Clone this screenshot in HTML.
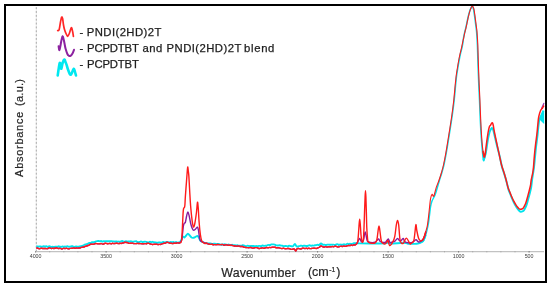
<!DOCTYPE html>
<html><head><meta charset="utf-8"><title>FTIR spectra</title>
<style>html,body{margin:0;padding:0;background:#fff;width:550px;height:287px;overflow:hidden}svg{display:block}</style>
</head><body>
<svg width="550" height="287" viewBox="0 0 550 287">
<rect x="0" y="0" width="550" height="287" fill="#fff"/>
<line x1="36.3" y1="7" x2="36.3" y2="251" stroke="#ececec" stroke-width="1"/>
<line x1="36.3" y1="7.2" x2="36.3" y2="251" stroke="#ababab" stroke-width="1" stroke-dasharray="1.9 1.95"/>
<line x1="36" y1="251.7" x2="544" y2="251.7" stroke="#c2c2c2" stroke-width="1.2"/>
<rect x="49.2" y="251.1" width="1" height="1.2" fill="#a8a8a8"/>
<rect x="63.3" y="251.1" width="1" height="1.2" fill="#a8a8a8"/>
<rect x="77.4" y="251.1" width="1" height="1.2" fill="#a8a8a8"/>
<rect x="91.5" y="251.1" width="1" height="1.2" fill="#a8a8a8"/>
<rect x="119.7" y="251.1" width="1" height="1.2" fill="#a8a8a8"/>
<rect x="133.8" y="251.1" width="1" height="1.2" fill="#a8a8a8"/>
<rect x="147.9" y="251.1" width="1" height="1.2" fill="#a8a8a8"/>
<rect x="162.0" y="251.1" width="1" height="1.2" fill="#a8a8a8"/>
<rect x="190.2" y="251.1" width="1" height="1.2" fill="#a8a8a8"/>
<rect x="204.3" y="251.1" width="1" height="1.2" fill="#a8a8a8"/>
<rect x="218.4" y="251.1" width="1" height="1.2" fill="#a8a8a8"/>
<rect x="232.5" y="251.1" width="1" height="1.2" fill="#a8a8a8"/>
<rect x="260.7" y="251.1" width="1" height="1.2" fill="#a8a8a8"/>
<rect x="274.8" y="251.1" width="1" height="1.2" fill="#a8a8a8"/>
<rect x="288.9" y="251.1" width="1" height="1.2" fill="#a8a8a8"/>
<rect x="303.0" y="251.1" width="1" height="1.2" fill="#a8a8a8"/>
<rect x="331.2" y="251.1" width="1" height="1.2" fill="#a8a8a8"/>
<rect x="345.3" y="251.1" width="1" height="1.2" fill="#a8a8a8"/>
<rect x="359.4" y="251.1" width="1" height="1.2" fill="#a8a8a8"/>
<rect x="373.5" y="251.1" width="1" height="1.2" fill="#a8a8a8"/>
<rect x="401.7" y="251.1" width="1" height="1.2" fill="#a8a8a8"/>
<rect x="415.8" y="251.1" width="1" height="1.2" fill="#a8a8a8"/>
<rect x="429.9" y="251.1" width="1" height="1.2" fill="#a8a8a8"/>
<rect x="444.0" y="251.1" width="1" height="1.2" fill="#a8a8a8"/>
<rect x="472.2" y="251.1" width="1" height="1.2" fill="#a8a8a8"/>
<rect x="486.3" y="251.1" width="1" height="1.2" fill="#a8a8a8"/>
<rect x="500.4" y="251.1" width="1" height="1.2" fill="#a8a8a8"/>
<rect x="514.5" y="251.1" width="1" height="1.2" fill="#a8a8a8"/>
<line x1="35.6" y1="251" x2="35.6" y2="252.6" stroke="#777" stroke-width="0.9"/>
<text x="35.6" y="257.8" font-size="5.3" fill="#3c3c3c" text-anchor="middle" font-family="Liberation Sans, sans-serif">4000</text>
<line x1="106.1" y1="251" x2="106.1" y2="252.6" stroke="#777" stroke-width="0.9"/>
<text x="106.1" y="257.8" font-size="5.3" fill="#3c3c3c" text-anchor="middle" font-family="Liberation Sans, sans-serif">3500</text>
<line x1="176.6" y1="251" x2="176.6" y2="252.6" stroke="#777" stroke-width="0.9"/>
<text x="176.6" y="257.8" font-size="5.3" fill="#3c3c3c" text-anchor="middle" font-family="Liberation Sans, sans-serif">3000</text>
<line x1="247.1" y1="251" x2="247.1" y2="252.6" stroke="#777" stroke-width="0.9"/>
<text x="247.1" y="257.8" font-size="5.3" fill="#3c3c3c" text-anchor="middle" font-family="Liberation Sans, sans-serif">2500</text>
<line x1="317.6" y1="251" x2="317.6" y2="252.6" stroke="#777" stroke-width="0.9"/>
<text x="317.6" y="257.8" font-size="5.3" fill="#3c3c3c" text-anchor="middle" font-family="Liberation Sans, sans-serif">2000</text>
<line x1="388.1" y1="251" x2="388.1" y2="252.6" stroke="#777" stroke-width="0.9"/>
<text x="388.1" y="257.8" font-size="5.3" fill="#3c3c3c" text-anchor="middle" font-family="Liberation Sans, sans-serif">1500</text>
<line x1="458.6" y1="251" x2="458.6" y2="252.6" stroke="#777" stroke-width="0.9"/>
<text x="458.6" y="257.8" font-size="5.3" fill="#3c3c3c" text-anchor="middle" font-family="Liberation Sans, sans-serif">1000</text>
<line x1="529.1" y1="251" x2="529.1" y2="252.6" stroke="#777" stroke-width="0.9"/>
<text x="529.1" y="257.8" font-size="5.3" fill="#3c3c3c" text-anchor="middle" font-family="Liberation Sans, sans-serif">500</text>
<path d="M36.30 246.60 C36.51 246.56 37.13 246.35 37.54 246.35 C37.96 246.35 38.37 246.60 38.79 246.61 C39.20 246.63 39.61 246.44 40.03 246.44 C40.44 246.44 40.86 246.60 41.27 246.64 C41.69 246.67 42.10 246.73 42.51 246.64 C42.93 246.56 43.34 246.15 43.76 246.12 C44.17 246.10 44.58 246.51 45.00 246.50 C45.42 246.49 45.83 246.03 46.25 246.09 C46.67 246.15 47.08 246.81 47.50 246.85 C47.92 246.90 48.33 246.44 48.75 246.36 C49.17 246.28 49.58 246.24 50.00 246.36 C50.42 246.48 50.83 247.03 51.25 247.07 C51.67 247.11 52.08 246.64 52.50 246.62 C52.92 246.61 53.33 246.97 53.75 246.98 C54.17 246.99 54.58 246.75 55.00 246.70 C55.42 246.65 55.83 246.64 56.25 246.65 C56.67 246.67 57.08 246.83 57.50 246.78 C57.92 246.72 58.33 246.32 58.75 246.31 C59.17 246.30 59.58 246.62 60.00 246.72 C60.42 246.82 60.83 246.93 61.25 246.91 C61.67 246.88 62.08 246.60 62.50 246.57 C62.92 246.54 63.33 246.75 63.75 246.74 C64.17 246.73 64.58 246.51 65.00 246.50 C65.42 246.49 65.83 246.73 66.25 246.67 C66.67 246.61 67.08 246.12 67.50 246.13 C67.92 246.15 68.33 246.69 68.75 246.77 C69.17 246.85 69.58 246.70 70.00 246.63 C70.42 246.57 70.83 246.46 71.25 246.38 C71.67 246.30 72.08 246.06 72.50 246.15 C72.92 246.24 73.33 246.84 73.75 246.92 C74.17 246.99 74.58 246.67 75.00 246.60 C75.42 246.53 75.83 246.49 76.25 246.50 C76.67 246.51 77.08 246.61 77.50 246.65 C77.92 246.68 78.33 246.77 78.75 246.72 C79.17 246.66 79.57 246.41 80.00 246.30 C80.43 246.19 80.89 246.14 81.33 246.06 C81.78 245.98 82.22 245.99 82.67 245.81 C83.11 245.64 83.56 245.23 84.00 245.00 C84.44 244.77 84.89 244.53 85.33 244.41 C85.78 244.28 86.22 244.42 86.67 244.27 C87.11 244.12 87.56 243.71 88.00 243.50 C88.44 243.29 88.89 243.10 89.33 243.02 C89.78 242.94 90.22 243.16 90.67 243.03 C91.11 242.89 91.49 242.33 92.00 242.20 C92.51 242.07 93.17 242.34 93.75 242.24 C94.33 242.14 94.96 241.79 95.50 241.60 C96.04 241.41 96.50 241.20 97.00 241.10 C97.50 241.01 98.00 240.99 98.50 241.01 C99.00 241.02 99.54 241.21 100.00 241.20 C100.46 241.19 100.83 240.88 101.25 240.96 C101.67 241.03 102.08 241.61 102.50 241.64 C102.92 241.68 103.33 241.23 103.75 241.18 C104.17 241.13 104.58 241.38 105.00 241.36 C105.42 241.35 105.83 241.10 106.25 241.08 C106.67 241.07 107.08 241.26 107.50 241.28 C107.92 241.30 108.33 241.18 108.75 241.18 C109.17 241.19 109.59 241.30 110.00 241.30 C110.41 241.30 110.82 241.15 111.23 241.16 C111.64 241.17 112.05 241.33 112.46 241.36 C112.87 241.39 113.28 241.31 113.69 241.35 C114.10 241.40 114.51 241.62 114.92 241.63 C115.33 241.65 115.74 241.42 116.15 241.43 C116.56 241.43 116.97 241.62 117.38 241.64 C117.79 241.66 118.21 241.56 118.62 241.57 C119.03 241.57 119.44 241.71 119.85 241.68 C120.26 241.65 120.67 241.51 121.08 241.38 C121.49 241.26 121.90 240.89 122.31 240.92 C122.72 240.95 123.13 241.42 123.54 241.54 C123.95 241.66 124.36 241.68 124.77 241.63 C125.18 241.57 125.58 241.20 126.00 241.20 C126.42 241.20 126.85 241.59 127.27 241.62 C127.70 241.65 128.12 241.38 128.55 241.37 C128.97 241.36 129.39 241.59 129.82 241.56 C130.24 241.52 130.67 241.12 131.09 241.16 C131.52 241.19 131.94 241.70 132.36 241.77 C132.79 241.84 133.21 241.66 133.64 241.59 C134.06 241.53 134.48 241.45 134.91 241.39 C135.33 241.33 135.76 241.14 136.18 241.24 C136.61 241.35 137.03 241.85 137.45 242.01 C137.88 242.17 138.30 242.22 138.73 242.19 C139.15 242.15 139.58 241.92 140.00 241.80 C140.42 241.68 140.83 241.41 141.25 241.47 C141.67 241.52 142.08 242.08 142.50 242.15 C142.92 242.21 143.33 241.92 143.75 241.83 C144.17 241.75 144.58 241.64 145.00 241.64 C145.42 241.63 145.83 241.70 146.25 241.80 C146.67 241.91 147.08 242.17 147.50 242.27 C147.92 242.37 148.33 242.49 148.75 242.40 C149.17 242.30 149.58 241.72 150.00 241.69 C150.42 241.66 150.83 242.23 151.25 242.24 C151.67 242.25 152.08 241.74 152.50 241.77 C152.92 241.79 153.33 242.35 153.75 242.41 C154.17 242.46 154.58 242.06 155.00 242.10 C155.42 242.13 155.83 242.52 156.25 242.63 C156.67 242.74 157.08 242.80 157.50 242.76 C157.92 242.71 158.33 242.43 158.75 242.37 C159.17 242.31 159.59 242.32 160.00 242.40 C160.41 242.48 160.80 242.87 161.20 242.84 C161.60 242.81 162.00 242.35 162.40 242.21 C162.80 242.07 163.20 241.95 163.60 241.99 C164.00 242.03 164.40 242.46 164.80 242.45 C165.20 242.44 165.60 241.99 166.00 241.93 C166.40 241.86 166.80 242.01 167.20 242.07 C167.60 242.12 168.00 242.19 168.40 242.25 C168.80 242.31 169.20 242.46 169.60 242.42 C170.00 242.38 170.40 242.02 170.80 242.00 C171.20 241.98 171.58 242.32 172.00 242.30 C172.42 242.28 172.89 241.81 173.33 241.85 C173.78 241.90 174.22 242.53 174.67 242.56 C175.11 242.59 175.56 242.03 176.00 242.03 C176.44 242.03 176.89 242.50 177.33 242.58 C177.78 242.66 178.22 242.57 178.67 242.49 C179.11 242.41 179.53 242.60 180.00 242.10 C180.47 241.60 181.03 240.43 181.50 239.50 C181.97 238.57 182.30 236.83 182.80 236.50 C183.30 236.17 183.93 237.67 184.50 237.50 C185.07 237.33 185.63 236.15 186.20 235.50 C186.77 234.85 187.30 233.60 187.90 233.60 C188.50 233.60 189.20 234.85 189.80 235.50 C190.40 236.15 190.93 237.12 191.50 237.50 C192.07 237.88 192.57 237.88 193.20 237.80 C193.83 237.72 194.58 237.30 195.30 237.00 C196.02 236.70 196.88 235.83 197.50 236.00 C198.12 236.17 198.50 237.17 199.00 238.00 C199.50 238.83 200.00 240.41 200.50 241.00 C201.00 241.59 201.50 241.34 202.00 241.56 C202.50 241.77 203.00 242.06 203.50 242.30 C204.00 242.54 204.54 242.86 205.00 243.00 C205.46 243.14 205.83 243.07 206.25 243.13 C206.67 243.18 207.08 243.30 207.50 243.35 C207.92 243.39 208.33 243.39 208.75 243.41 C209.17 243.43 209.58 243.45 210.00 243.49 C210.42 243.53 210.83 243.56 211.25 243.65 C211.67 243.74 212.08 244.03 212.50 244.05 C212.92 244.07 213.33 243.80 213.75 243.76 C214.17 243.72 214.58 243.74 215.00 243.80 C215.42 243.87 215.83 244.17 216.25 244.17 C216.67 244.18 217.08 243.87 217.50 243.85 C217.92 243.82 218.33 243.94 218.75 244.01 C219.17 244.09 219.58 244.17 220.00 244.30 C220.42 244.43 220.83 244.78 221.25 244.81 C221.67 244.84 222.08 244.52 222.50 244.48 C222.92 244.44 223.33 244.64 223.75 244.59 C224.17 244.54 224.58 244.18 225.00 244.19 C225.42 244.19 225.83 244.52 226.25 244.63 C226.67 244.74 227.08 244.89 227.50 244.86 C227.92 244.83 228.33 244.40 228.75 244.44 C229.17 244.47 229.58 244.94 230.00 245.05 C230.42 245.17 230.83 245.21 231.25 245.15 C231.67 245.09 232.08 244.69 232.50 244.72 C232.92 244.74 233.33 245.22 233.75 245.31 C234.17 245.40 234.58 245.21 235.00 245.24 C235.42 245.28 235.83 245.51 236.25 245.52 C236.67 245.53 237.08 245.27 237.50 245.30 C237.92 245.34 238.33 245.66 238.75 245.71 C239.17 245.75 239.58 245.57 240.00 245.60 C240.42 245.63 240.83 245.92 241.25 245.86 C241.67 245.81 242.08 245.35 242.50 245.27 C242.92 245.19 243.33 245.24 243.75 245.35 C244.17 245.47 244.58 245.81 245.00 245.96 C245.42 246.11 245.83 246.31 246.25 246.27 C246.67 246.22 247.08 245.74 247.50 245.68 C247.92 245.62 248.33 245.84 248.75 245.91 C249.17 245.98 249.58 246.09 250.00 246.08 C250.42 246.08 250.83 245.91 251.25 245.89 C251.67 245.87 252.08 245.96 252.50 245.98 C252.92 245.99 253.33 245.94 253.75 245.98 C254.17 246.02 254.58 246.19 255.00 246.20 C255.42 246.21 255.83 246.03 256.25 246.03 C256.67 246.03 257.08 246.21 257.50 246.19 C257.92 246.16 258.33 245.92 258.75 245.87 C259.17 245.82 259.58 245.84 260.00 245.89 C260.42 245.94 260.83 246.26 261.25 246.20 C261.67 246.13 262.08 245.52 262.50 245.47 C262.92 245.43 263.33 245.86 263.75 245.91 C264.17 245.97 264.58 245.82 265.00 245.80 C265.42 245.78 265.83 245.88 266.25 245.78 C266.67 245.67 267.08 245.32 267.50 245.16 C267.92 245.01 268.33 244.85 268.75 244.85 C269.17 244.85 269.58 245.22 270.00 245.14 C270.42 245.06 270.83 244.52 271.25 244.40 C271.67 244.27 272.06 244.40 272.50 244.40 C272.94 244.40 273.42 244.31 273.88 244.39 C274.33 244.48 274.79 244.72 275.25 244.89 C275.71 245.06 276.17 245.30 276.62 245.40 C277.08 245.50 277.54 245.53 278.00 245.50 C278.46 245.47 278.93 245.24 279.40 245.24 C279.87 245.25 280.33 245.47 280.80 245.54 C281.27 245.61 281.73 245.54 282.20 245.65 C282.67 245.76 283.13 246.14 283.60 246.20 C284.07 246.26 284.54 246.04 285.00 246.00 C285.46 245.96 285.89 245.91 286.33 245.98 C286.78 246.04 287.22 246.42 287.67 246.39 C288.11 246.36 288.56 245.87 289.00 245.80 C289.44 245.74 289.89 245.90 290.33 245.99 C290.78 246.07 291.22 246.27 291.67 246.30 C292.11 246.34 292.46 246.58 293.00 246.20 C293.54 245.82 294.32 243.98 294.90 244.00 C295.48 244.02 296.03 245.87 296.50 246.30 C296.97 246.73 297.31 246.61 297.71 246.57 C298.12 246.54 298.52 246.24 298.93 246.11 C299.33 245.99 299.74 245.91 300.14 245.84 C300.55 245.76 300.95 245.65 301.36 245.67 C301.76 245.69 302.17 245.98 302.57 245.97 C302.98 245.96 303.38 245.62 303.79 245.59 C304.19 245.56 304.59 245.73 305.00 245.80 C305.41 245.87 305.83 245.98 306.25 246.01 C306.67 246.04 307.08 246.09 307.50 245.98 C307.92 245.87 308.33 245.43 308.75 245.33 C309.17 245.22 309.58 245.28 310.00 245.35 C310.42 245.42 310.83 245.73 311.25 245.76 C311.67 245.80 312.08 245.57 312.50 245.55 C312.92 245.53 313.33 245.68 313.75 245.64 C314.17 245.60 314.57 245.40 315.00 245.30 C315.43 245.20 315.89 245.15 316.33 245.06 C316.78 244.97 317.22 244.78 317.67 244.77 C318.11 244.76 318.44 245.21 319.00 245.00 C319.56 244.79 320.33 243.53 321.00 243.50 C321.67 243.47 322.43 244.61 323.00 244.80 C323.57 244.99 323.93 244.57 324.40 244.61 C324.87 244.66 325.33 245.07 325.80 245.06 C326.27 245.06 326.73 244.66 327.20 244.59 C327.67 244.53 328.13 244.63 328.60 244.66 C329.07 244.70 329.56 244.80 330.00 244.80 C330.44 244.80 330.83 244.71 331.25 244.69 C331.67 244.66 332.08 244.67 332.50 244.65 C332.92 244.64 333.33 244.54 333.75 244.61 C334.17 244.67 334.58 245.08 335.00 245.03 C335.42 244.98 335.83 244.45 336.25 244.30 C336.67 244.15 337.08 244.02 337.50 244.13 C337.92 244.23 338.33 244.87 338.75 244.94 C339.17 245.00 339.58 244.53 340.00 244.50 C340.42 244.47 340.83 244.71 341.25 244.75 C341.67 244.80 342.08 244.86 342.50 244.76 C342.92 244.67 343.33 244.21 343.75 244.18 C344.17 244.14 344.58 244.51 345.00 244.56 C345.42 244.60 345.83 244.59 346.25 244.45 C346.67 244.31 347.08 243.78 347.50 243.72 C347.92 243.67 348.33 244.10 348.75 244.11 C349.17 244.12 349.58 243.82 350.00 243.80 C350.42 243.78 350.83 244.00 351.25 243.98 C351.67 243.96 352.08 243.79 352.50 243.70 C352.92 243.61 353.33 243.51 353.75 243.44 C354.17 243.38 352.29 243.29 355.00 243.30 C357.71 243.31 365.00 243.50 370.00 243.50 C375.00 243.50 382.00 243.47 385.00 243.30 C388.00 243.13 387.00 242.45 388.00 242.50 C389.00 242.55 388.38 243.55 391.00 243.60 C393.62 243.65 400.87 242.78 403.70 242.80 C406.53 242.82 405.82 243.55 408.00 243.70 C410.18 243.85 414.62 243.92 416.80 243.70 C418.98 243.48 419.98 242.93 421.10 242.40 C422.22 241.87 422.73 241.73 423.50 240.50 C424.27 239.27 425.33 235.92 425.70 235.00" fill="none" stroke="#00e3ec" stroke-width="1.90" stroke-linejoin="round"/><path d="M421.10 242.40 C421.50 242.08 422.73 241.73 423.50 240.50 C424.27 239.27 425.12 236.75 425.70 235.00 C426.28 233.25 426.57 231.83 427.00 230.00 C427.43 228.17 427.88 226.50 428.30 224.00 C428.72 221.50 429.13 217.87 429.50 215.00 C429.87 212.13 430.08 209.13 430.50 206.80 C430.92 204.47 431.27 202.92 432.00 201.00 C432.73 199.08 434.03 197.47 434.90 195.30 C435.77 193.13 436.43 190.55 437.20 188.00 C437.97 185.45 438.72 182.58 439.50 180.00 C440.28 177.42 441.17 175.00 441.90 172.50 C442.63 170.00 443.22 168.02 443.90 165.00 C444.58 161.98 445.25 158.57 446.00 154.40 C446.75 150.23 447.73 144.07 448.40 140.00 C449.07 135.93 449.35 134.17 450.00 130.00 C450.65 125.83 451.60 120.00 452.30 115.00 C453.00 110.00 453.65 105.00 454.20 100.00 C454.75 95.00 455.18 89.17 455.60 85.00 C456.02 80.83 456.33 77.83 456.70 75.00 C457.07 72.17 457.42 70.33 457.80 68.00 C458.18 65.67 458.57 63.33 459.00 61.00 C459.43 58.67 459.92 56.17 460.40 54.00 C460.88 51.83 461.48 49.83 461.90 48.00 C462.32 46.17 462.66 44.53 462.90 43.00 C463.14 41.47 463.09 40.42 463.35 38.80 C463.61 37.18 464.03 35.15 464.45 33.30 C464.87 31.45 465.42 29.57 465.85 27.70 C466.28 25.83 466.65 23.97 467.05 22.10 C467.45 20.23 467.80 18.35 468.25 16.50 C468.70 14.65 469.28 12.43 469.75 11.00 C470.22 9.57 470.67 8.65 471.05 7.90 C471.43 7.15 471.74 6.60 472.05 6.50 C472.36 6.40 472.62 6.72 472.90 7.30 C473.18 7.88 473.40 8.40 473.70 10.00 C474.00 11.60 474.38 14.58 474.70 16.90 C475.02 19.22 475.30 21.57 475.60 23.90 C475.90 26.23 476.27 28.58 476.50 30.90 C476.73 33.22 476.85 35.45 477.00 37.80 C477.15 40.15 477.27 41.63 477.40 45.00 C477.53 48.37 477.67 53.83 477.80 58.00 C477.93 62.17 478.03 65.50 478.20 70.00 C478.37 74.50 478.58 80.00 478.80 85.00 C479.02 90.00 479.28 95.00 479.50 100.00 C479.72 105.00 479.88 110.00 480.10 115.00 C480.32 120.00 480.53 125.33 480.80 130.00 C481.07 134.67 481.27 138.00 481.70 143.00 C482.13 148.00 482.88 157.67 483.40 160.00 C483.92 162.33 484.32 158.67 484.80 157.00 C485.28 155.33 486.05 151.17 486.30 150.00" fill="none" stroke="#00e3ec" stroke-width="1.50" stroke-linejoin="round"/><path d="M483.40 160.00 C483.63 159.50 484.32 158.67 484.80 157.00 C485.28 155.33 485.77 153.00 486.30 150.00 C486.83 147.00 487.45 142.00 488.00 139.00 C488.55 136.00 489.10 133.67 489.60 132.00 C490.10 130.33 490.58 129.65 491.00 129.00 C491.42 128.35 491.73 127.93 492.10 128.10 C492.47 128.27 492.85 129.02 493.20 130.00 C493.55 130.98 493.60 131.50 494.20 134.00 C494.80 136.50 495.87 141.20 496.80 145.00 C497.73 148.80 498.93 153.15 499.80 156.80 C500.67 160.45 501.23 163.97 502.00 166.90 C502.77 169.83 503.63 171.90 504.40 174.40 C505.17 176.90 505.90 179.32 506.60 181.90 C507.30 184.48 507.95 187.78 508.60 189.90 C509.25 192.02 509.88 193.05 510.50 194.60 C511.12 196.15 511.70 197.78 512.30 199.20 C512.90 200.62 513.48 201.90 514.10 203.10 C514.72 204.30 515.38 205.38 516.00 206.40 C516.62 207.42 517.23 208.45 517.80 209.20 C518.37 209.95 518.90 210.48 519.40 210.90 C519.90 211.32 520.30 211.62 520.80 211.70 C521.30 211.78 521.88 211.62 522.40 211.40 C522.92 211.18 523.45 210.93 523.90 210.40 C524.35 209.87 524.70 209.00 525.10 208.20 C525.50 207.40 525.88 206.73 526.30 205.60 C526.72 204.47 527.18 202.83 527.60 201.40 C528.02 199.97 528.40 198.50 528.80 197.00 C529.20 195.50 529.60 194.02 530.00 192.40 C530.40 190.78 530.90 188.97 531.20 187.30 C531.50 185.63 531.58 184.08 531.80 182.40 C532.02 180.72 532.13 179.68 532.50 177.20 C532.87 174.72 533.58 170.78 534.00 167.50 C534.42 164.22 534.67 160.83 535.00 157.50 C535.33 154.17 535.60 151.00 536.00 147.50 C536.40 144.00 537.02 139.83 537.40 136.50 C537.78 133.17 537.98 130.25 538.30 127.50 C538.62 124.75 538.81 122.00 539.30 120.00 C539.79 118.00 540.55 117.08 541.25 115.50 C541.95 113.92 543.12 111.33 543.50 110.50" fill="none" stroke="#00e3ec" stroke-width="1.90" stroke-linejoin="round"/>
<path d="M539.6 119.5 L541.5 114.8 L544.2 110.5 L544.2 124 L542.8 122.8 L541 121 Z" fill="#00e3ec"/>
<path d="M36.30 248.30 C36.51 248.25 37.13 247.94 37.54 248.00 C37.96 248.06 38.37 248.57 38.79 248.67 C39.20 248.77 39.61 248.70 40.03 248.62 C40.44 248.54 40.86 248.22 41.27 248.19 C41.69 248.16 42.10 248.40 42.51 248.44 C42.93 248.48 43.34 248.42 43.76 248.43 C44.17 248.44 44.58 248.47 45.00 248.50 C45.42 248.53 45.83 248.57 46.25 248.60 C46.67 248.63 47.08 248.78 47.50 248.68 C47.92 248.59 48.33 248.15 48.75 248.02 C49.17 247.90 49.58 247.83 50.00 247.93 C50.42 248.02 50.83 248.57 51.25 248.61 C51.67 248.66 52.08 248.24 52.50 248.21 C52.92 248.19 53.33 248.48 53.75 248.47 C54.17 248.47 54.58 248.31 55.00 248.20 C55.42 248.09 55.83 247.79 56.25 247.80 C56.67 247.81 57.08 248.13 57.50 248.25 C57.92 248.38 58.33 248.57 58.75 248.55 C59.17 248.53 59.58 248.11 60.00 248.16 C60.42 248.21 60.83 248.73 61.25 248.85 C61.67 248.97 62.08 248.98 62.50 248.86 C62.92 248.74 63.33 248.17 63.75 248.13 C64.17 248.08 64.58 248.60 65.00 248.60 C65.42 248.60 65.83 248.14 66.25 248.14 C66.67 248.13 67.08 248.44 67.50 248.56 C67.92 248.69 68.33 248.92 68.75 248.88 C69.17 248.85 69.58 248.46 70.00 248.34 C70.42 248.22 70.83 248.16 71.25 248.16 C71.67 248.15 72.08 248.35 72.50 248.30 C72.92 248.26 73.33 247.91 73.75 247.91 C74.17 247.91 74.58 248.29 75.00 248.30 C75.42 248.31 75.83 248.01 76.25 247.97 C76.67 247.94 77.08 248.08 77.50 248.09 C77.92 248.11 78.33 248.09 78.75 248.07 C79.17 248.06 79.57 248.11 80.00 248.00 C80.43 247.89 80.89 247.58 81.33 247.43 C81.78 247.27 82.22 247.16 82.67 247.09 C83.11 247.02 83.56 247.14 84.00 247.00 C84.44 246.86 84.89 246.42 85.33 246.25 C85.78 246.07 86.22 246.09 86.67 245.96 C87.11 245.84 87.56 245.68 88.00 245.50 C88.44 245.32 88.89 245.09 89.33 244.88 C89.78 244.66 90.22 244.32 90.67 244.20 C91.11 244.09 91.49 244.21 92.00 244.20 C92.51 244.19 93.17 244.27 93.75 244.15 C94.33 244.04 94.96 243.58 95.50 243.50 C96.04 243.42 96.50 243.60 97.00 243.65 C97.50 243.71 98.00 243.80 98.50 243.83 C99.00 243.85 99.54 243.86 100.00 243.80 C100.46 243.74 100.83 243.41 101.25 243.47 C101.67 243.52 102.08 244.06 102.50 244.14 C102.92 244.23 103.33 244.12 103.75 243.97 C104.17 243.83 104.58 243.35 105.00 243.26 C105.42 243.16 105.83 243.33 106.25 243.40 C106.67 243.47 107.08 243.66 107.50 243.70 C107.92 243.74 108.33 243.69 108.75 243.64 C109.17 243.59 109.58 243.38 110.00 243.40 C110.42 243.42 110.83 243.80 111.25 243.78 C111.67 243.76 112.08 243.33 112.50 243.30 C112.92 243.28 113.33 243.63 113.75 243.66 C114.17 243.69 114.58 243.59 115.00 243.50 C115.42 243.42 115.83 243.18 116.25 243.16 C116.67 243.14 117.08 243.32 117.50 243.40 C117.92 243.49 118.33 243.67 118.75 243.66 C119.17 243.64 119.59 243.33 120.00 243.30 C120.41 243.27 120.80 243.50 121.20 243.45 C121.60 243.40 122.00 243.08 122.40 242.98 C122.80 242.89 123.20 243.02 123.60 242.90 C124.00 242.78 124.40 242.31 124.80 242.24 C125.20 242.17 125.58 242.45 126.00 242.50 C126.42 242.55 126.89 242.40 127.33 242.54 C127.78 242.67 128.22 243.17 128.67 243.30 C129.11 243.43 129.57 243.31 130.00 243.30 C130.43 243.29 130.83 243.30 131.25 243.26 C131.67 243.22 132.08 243.05 132.50 243.08 C132.92 243.11 133.33 243.36 133.75 243.46 C134.17 243.55 134.58 243.60 135.00 243.63 C135.42 243.66 135.83 243.68 136.25 243.64 C136.67 243.61 137.08 243.44 137.50 243.41 C137.92 243.39 138.33 243.48 138.75 243.51 C139.17 243.54 139.58 243.58 140.00 243.60 C140.42 243.62 140.83 243.58 141.25 243.63 C141.67 243.68 142.08 243.89 142.50 243.90 C142.92 243.91 143.33 243.74 143.75 243.69 C144.17 243.64 144.58 243.60 145.00 243.60 C145.42 243.61 145.83 243.76 146.25 243.72 C146.67 243.67 147.08 243.39 147.50 243.33 C147.92 243.27 148.33 243.29 148.75 243.36 C149.17 243.44 149.57 243.67 150.00 243.80 C150.43 243.93 150.89 244.00 151.33 244.12 C151.78 244.23 152.22 244.47 152.67 244.50 C153.11 244.53 153.56 244.33 154.00 244.28 C154.44 244.24 154.89 244.26 155.33 244.24 C155.78 244.22 156.22 244.11 156.67 244.17 C157.11 244.23 157.58 244.57 158.00 244.60 C158.42 244.63 158.80 244.36 159.20 244.34 C159.60 244.33 160.00 244.56 160.40 244.51 C160.80 244.47 161.20 244.22 161.60 244.06 C162.00 243.91 162.40 243.72 162.80 243.60 C163.20 243.47 163.55 243.38 164.00 243.30 C164.45 243.22 165.00 243.29 165.50 243.12 C166.00 242.96 166.50 242.39 167.00 242.30 C167.50 242.21 168.00 242.39 168.50 242.56 C169.00 242.73 169.55 243.18 170.00 243.30 C170.45 243.42 170.80 243.23 171.20 243.29 C171.60 243.35 172.00 243.66 172.40 243.67 C172.80 243.67 173.20 243.39 173.60 243.31 C174.00 243.23 174.40 243.20 174.80 243.18 C175.20 243.16 175.58 243.25 176.00 243.20 C176.42 243.15 176.89 242.90 177.33 242.86 C177.78 242.82 178.22 243.02 178.67 242.98 C179.11 242.93 179.53 243.01 180.00 242.60 C180.47 242.19 181.08 241.93 181.50 240.50 C181.92 239.07 182.18 236.42 182.50 234.00 C182.82 231.58 183.10 227.80 183.40 226.00 C183.70 224.20 183.97 223.83 184.30 223.20 C184.63 222.57 185.02 223.40 185.40 222.20 C185.78 221.00 186.18 217.70 186.60 216.00 C187.02 214.30 187.45 211.92 187.90 212.00 C188.35 212.08 188.82 214.50 189.30 216.50 C189.78 218.50 190.30 222.00 190.80 224.00 C191.30 226.00 191.82 227.43 192.30 228.50 C192.78 229.57 193.15 230.32 193.70 230.40 C194.25 230.48 194.97 229.53 195.60 229.00 C196.23 228.47 197.00 226.87 197.50 227.20 C198.00 227.53 198.25 229.13 198.60 231.00 C198.95 232.87 199.27 236.73 199.60 238.40 C199.93 240.07 199.95 240.35 200.60 241.00 C201.25 241.65 202.27 241.83 203.50 242.30 C204.73 242.77 207.03 243.48 208.00 243.80 C208.97 244.12 208.89 244.12 209.33 244.22 C209.78 244.33 210.22 244.41 210.67 244.42 C211.11 244.43 211.56 244.25 212.00 244.30 C212.44 244.35 212.89 244.64 213.33 244.70 C213.78 244.75 214.22 244.61 214.67 244.62 C215.11 244.62 215.56 244.74 216.00 244.73 C216.44 244.71 216.89 244.54 217.33 244.52 C217.78 244.50 218.22 244.59 218.67 244.61 C219.11 244.62 219.57 244.60 220.00 244.60 C220.43 244.60 220.83 244.66 221.25 244.62 C221.67 244.58 222.08 244.28 222.50 244.38 C222.92 244.47 223.33 245.09 223.75 245.20 C224.17 245.30 224.58 245.08 225.00 245.01 C225.42 244.94 225.83 244.75 226.25 244.77 C226.67 244.79 227.08 245.06 227.50 245.13 C227.92 245.20 228.33 245.17 228.75 245.20 C229.17 245.23 229.58 245.28 230.00 245.30 C230.42 245.32 230.83 245.29 231.25 245.32 C231.67 245.35 232.08 245.38 232.50 245.46 C232.92 245.54 233.33 245.69 233.75 245.78 C234.17 245.88 234.58 245.95 235.00 246.01 C235.42 246.07 235.83 246.13 236.25 246.15 C236.67 246.18 237.08 246.20 237.50 246.16 C237.92 246.12 238.33 245.87 238.75 245.93 C239.17 245.98 239.58 246.42 240.00 246.50 C240.42 246.58 240.83 246.40 241.25 246.39 C241.67 246.39 242.08 246.39 242.50 246.48 C242.92 246.58 243.33 246.84 243.75 246.99 C244.17 247.14 244.58 247.30 245.00 247.37 C245.42 247.45 245.83 247.42 246.25 247.46 C246.67 247.49 247.08 247.54 247.50 247.59 C247.92 247.64 248.33 247.75 248.75 247.75 C249.17 247.75 249.58 247.64 250.00 247.60 C250.42 247.56 250.83 247.40 251.25 247.48 C251.67 247.56 252.08 248.01 252.50 248.11 C252.92 248.20 253.33 248.14 253.75 248.06 C254.17 247.98 254.58 247.69 255.00 247.62 C255.42 247.56 255.83 247.64 256.25 247.67 C256.67 247.69 257.08 247.62 257.50 247.76 C257.92 247.91 258.33 248.42 258.75 248.53 C259.17 248.64 259.57 248.48 260.00 248.40 C260.43 248.32 260.89 248.17 261.33 248.07 C261.78 247.98 262.22 247.83 262.67 247.85 C263.11 247.87 263.56 248.21 264.00 248.21 C264.44 248.21 264.89 247.98 265.33 247.86 C265.78 247.74 266.22 247.52 266.67 247.51 C267.11 247.50 267.54 247.82 268.00 247.80 C268.46 247.78 268.93 247.42 269.40 247.39 C269.87 247.36 270.33 247.66 270.80 247.62 C271.27 247.59 271.73 247.27 272.20 247.20 C272.67 247.13 273.13 247.18 273.60 247.20 C274.07 247.21 274.53 247.21 275.00 247.30 C275.47 247.39 275.93 247.67 276.40 247.75 C276.87 247.83 277.33 247.75 277.80 247.78 C278.27 247.81 278.73 247.83 279.20 247.92 C279.67 248.01 280.13 248.20 280.60 248.32 C281.07 248.43 281.54 248.62 282.00 248.60 C282.46 248.58 282.89 248.22 283.33 248.22 C283.78 248.22 284.22 248.52 284.67 248.60 C285.11 248.67 285.56 248.69 286.00 248.68 C286.44 248.67 286.89 248.55 287.33 248.52 C287.78 248.49 288.22 248.43 288.67 248.50 C289.11 248.56 289.53 248.76 290.00 248.90 C290.47 249.04 291.00 249.32 291.50 249.36 C292.00 249.39 292.50 249.14 293.00 249.11 C293.50 249.08 294.03 248.88 294.50 249.20 C294.97 249.52 295.38 251.07 295.80 251.00 C296.22 250.93 296.58 249.22 297.00 248.80 C297.42 248.38 297.89 248.50 298.33 248.50 C298.78 248.51 299.22 248.75 299.67 248.83 C300.11 248.91 300.56 249.08 301.00 248.99 C301.44 248.89 301.89 248.37 302.33 248.24 C302.78 248.10 303.22 248.14 303.67 248.20 C304.11 248.26 304.57 248.59 305.00 248.60 C305.43 248.61 305.83 248.22 306.25 248.24 C306.67 248.26 307.08 248.73 307.50 248.72 C307.92 248.71 308.33 248.20 308.75 248.18 C309.17 248.17 309.58 248.57 310.00 248.63 C310.42 248.70 310.83 248.61 311.25 248.57 C311.67 248.54 312.08 248.50 312.50 248.42 C312.92 248.33 313.33 248.11 313.75 248.09 C314.17 248.07 314.57 248.24 315.00 248.30 C315.43 248.36 315.89 248.51 316.33 248.46 C316.78 248.42 317.22 248.19 317.67 248.03 C318.11 247.87 318.44 247.84 319.00 247.50 C319.56 247.16 320.33 246.08 321.00 246.00 C321.67 245.92 322.43 246.84 323.00 247.00 C323.57 247.16 323.93 247.03 324.40 246.97 C324.87 246.92 325.33 246.66 325.80 246.67 C326.27 246.68 326.73 247.00 327.20 247.01 C327.67 247.03 328.13 246.78 328.60 246.75 C329.07 246.71 329.56 246.79 330.00 246.80 C330.44 246.81 330.83 246.86 331.25 246.82 C331.67 246.77 332.08 246.55 332.50 246.54 C332.92 246.53 333.33 246.82 333.75 246.77 C334.17 246.71 334.58 246.27 335.00 246.20 C335.42 246.14 335.83 246.25 336.25 246.37 C336.67 246.49 337.08 246.85 337.50 246.92 C337.92 246.99 338.33 246.87 338.75 246.79 C339.17 246.70 339.58 246.51 340.00 246.40 C340.42 246.29 340.83 246.11 341.25 246.13 C341.67 246.15 342.08 246.56 342.50 246.52 C342.92 246.49 343.33 245.95 343.75 245.93 C344.17 245.91 344.58 246.36 345.00 246.40 C345.42 246.43 345.83 246.23 346.25 246.12 C346.67 246.01 347.08 245.83 347.50 245.72 C347.92 245.62 348.33 245.50 348.75 245.48 C349.17 245.46 349.57 245.68 350.00 245.60 C350.43 245.52 350.87 244.98 351.30 244.98 C351.73 244.98 352.17 245.64 352.60 245.59 C353.03 245.54 353.47 244.77 353.90 244.66 C354.33 244.54 354.62 245.26 355.20 244.90 C355.78 244.54 356.67 243.57 357.40 242.50 C358.13 241.43 358.92 238.62 359.60 238.50 C360.28 238.38 360.85 241.55 361.50 241.80 C362.15 242.05 362.88 241.63 363.50 240.00 C364.12 238.37 364.62 232.00 365.20 232.00 C365.78 232.00 366.45 238.33 367.00 240.00 C367.55 241.67 367.17 241.62 368.50 242.00 C369.83 242.38 373.53 242.63 375.00 242.30 C376.47 241.97 376.68 240.57 377.30 240.00 C377.92 239.43 378.22 238.65 378.70 238.90 C379.18 239.15 379.18 240.90 380.20 241.50 C381.22 242.10 383.75 242.58 384.80 242.50 C385.85 242.42 385.92 241.60 386.50 241.00 C387.08 240.40 387.72 238.65 388.30 238.90 C388.88 239.15 389.28 242.02 390.00 242.50 C390.72 242.98 391.77 242.03 392.60 241.80 C393.43 241.57 394.17 241.65 395.00 241.10 C395.83 240.55 396.73 238.50 397.60 238.50 C398.47 238.50 399.25 241.10 400.20 241.10 C401.15 241.10 402.57 238.43 403.30 238.50 C404.03 238.57 403.82 240.78 404.60 241.50 C405.38 242.22 406.70 242.65 408.00 242.80 C409.30 242.95 411.08 242.90 412.40 242.40 C413.72 241.90 414.88 239.87 415.90 239.80 C416.92 239.73 417.65 241.77 418.50 242.00 C419.35 242.23 420.25 241.62 421.00 241.20 C421.75 240.78 422.35 240.45 423.00 239.50 C423.65 238.55 424.43 236.83 424.90 235.50 C425.37 234.17 425.65 232.17 425.80 231.50" fill="none" stroke="#8a1a9c" stroke-width="1.4" stroke-linejoin="round"/>
<path d="M541.6 108.6 L543.8 103.4" fill="none" stroke="#9a3ab0" stroke-width="1.3" stroke-linecap="round"/>
<path d="M36.30 248.30 C36.51 248.25 37.13 247.94 37.54 248.00 C37.96 248.06 38.37 248.57 38.79 248.67 C39.20 248.77 39.61 248.70 40.03 248.62 C40.44 248.54 40.86 248.22 41.27 248.19 C41.69 248.16 42.10 248.40 42.51 248.44 C42.93 248.48 43.34 248.42 43.76 248.43 C44.17 248.44 44.58 248.47 45.00 248.50 C45.42 248.53 45.83 248.57 46.25 248.60 C46.67 248.63 47.08 248.78 47.50 248.68 C47.92 248.59 48.33 248.15 48.75 248.02 C49.17 247.90 49.58 247.83 50.00 247.93 C50.42 248.02 50.83 248.57 51.25 248.61 C51.67 248.66 52.08 248.24 52.50 248.21 C52.92 248.19 53.33 248.48 53.75 248.47 C54.17 248.47 54.58 248.31 55.00 248.20 C55.42 248.09 55.83 247.79 56.25 247.80 C56.67 247.81 57.08 248.13 57.50 248.25 C57.92 248.38 58.33 248.57 58.75 248.55 C59.17 248.53 59.58 248.11 60.00 248.16 C60.42 248.21 60.83 248.73 61.25 248.85 C61.67 248.97 62.08 248.98 62.50 248.86 C62.92 248.74 63.33 248.17 63.75 248.13 C64.17 248.08 64.58 248.60 65.00 248.60 C65.42 248.60 65.83 248.14 66.25 248.14 C66.67 248.13 67.08 248.44 67.50 248.56 C67.92 248.69 68.33 248.92 68.75 248.88 C69.17 248.85 69.58 248.46 70.00 248.34 C70.42 248.22 70.83 248.16 71.25 248.16 C71.67 248.15 72.08 248.35 72.50 248.30 C72.92 248.26 73.33 247.91 73.75 247.91 C74.17 247.91 74.58 248.29 75.00 248.30 C75.42 248.31 75.83 248.01 76.25 247.97 C76.67 247.94 77.08 248.08 77.50 248.09 C77.92 248.11 78.33 248.09 78.75 248.07 C79.17 248.06 79.57 248.11 80.00 248.00 C80.43 247.89 80.89 247.58 81.33 247.43 C81.78 247.27 82.22 247.16 82.67 247.09 C83.11 247.02 83.56 247.14 84.00 247.00 C84.44 246.86 84.89 246.42 85.33 246.25 C85.78 246.07 86.22 246.09 86.67 245.96 C87.11 245.84 87.56 245.68 88.00 245.50 C88.44 245.32 88.89 245.09 89.33 244.88 C89.78 244.66 90.22 244.32 90.67 244.20 C91.11 244.09 91.49 244.21 92.00 244.20 C92.51 244.19 93.17 244.27 93.75 244.15 C94.33 244.04 94.96 243.58 95.50 243.50 C96.04 243.42 96.50 243.60 97.00 243.65 C97.50 243.71 98.00 243.80 98.50 243.83 C99.00 243.85 99.54 243.86 100.00 243.80 C100.46 243.74 100.83 243.41 101.25 243.47 C101.67 243.52 102.08 244.06 102.50 244.14 C102.92 244.23 103.33 244.12 103.75 243.97 C104.17 243.83 104.58 243.35 105.00 243.26 C105.42 243.16 105.83 243.33 106.25 243.40 C106.67 243.47 107.08 243.66 107.50 243.70 C107.92 243.74 108.33 243.69 108.75 243.64 C109.17 243.59 109.58 243.38 110.00 243.40 C110.42 243.42 110.83 243.80 111.25 243.78 C111.67 243.76 112.08 243.33 112.50 243.30 C112.92 243.28 113.33 243.63 113.75 243.66 C114.17 243.69 114.58 243.59 115.00 243.50 C115.42 243.42 115.83 243.18 116.25 243.16 C116.67 243.14 117.08 243.32 117.50 243.40 C117.92 243.49 118.33 243.67 118.75 243.66 C119.17 243.64 119.59 243.33 120.00 243.30 C120.41 243.27 120.80 243.50 121.20 243.45 C121.60 243.40 122.00 243.08 122.40 242.98 C122.80 242.89 123.20 243.02 123.60 242.90 C124.00 242.78 124.40 242.31 124.80 242.24 C125.20 242.17 125.58 242.45 126.00 242.50 C126.42 242.55 126.89 242.40 127.33 242.54 C127.78 242.67 128.22 243.17 128.67 243.30 C129.11 243.43 129.57 243.31 130.00 243.30 C130.43 243.29 130.83 243.30 131.25 243.26 C131.67 243.22 132.08 243.05 132.50 243.08 C132.92 243.11 133.33 243.36 133.75 243.46 C134.17 243.55 134.58 243.60 135.00 243.63 C135.42 243.66 135.83 243.68 136.25 243.64 C136.67 243.61 137.08 243.44 137.50 243.41 C137.92 243.39 138.33 243.48 138.75 243.51 C139.17 243.54 139.58 243.58 140.00 243.60 C140.42 243.62 140.83 243.58 141.25 243.63 C141.67 243.68 142.08 243.89 142.50 243.90 C142.92 243.91 143.33 243.74 143.75 243.69 C144.17 243.64 144.58 243.60 145.00 243.60 C145.42 243.61 145.83 243.76 146.25 243.72 C146.67 243.67 147.08 243.39 147.50 243.33 C147.92 243.27 148.33 243.29 148.75 243.36 C149.17 243.44 149.57 243.67 150.00 243.80 C150.43 243.93 150.89 244.00 151.33 244.12 C151.78 244.23 152.22 244.47 152.67 244.50 C153.11 244.53 153.56 244.33 154.00 244.28 C154.44 244.24 154.89 244.26 155.33 244.24 C155.78 244.22 156.22 244.11 156.67 244.17 C157.11 244.23 157.58 244.57 158.00 244.60 C158.42 244.63 158.80 244.36 159.20 244.34 C159.60 244.33 160.00 244.56 160.40 244.51 C160.80 244.47 161.20 244.22 161.60 244.06 C162.00 243.91 162.40 243.72 162.80 243.60 C163.20 243.47 163.55 243.38 164.00 243.30 C164.45 243.22 165.00 243.29 165.50 243.12 C166.00 242.96 166.50 242.39 167.00 242.30 C167.50 242.21 168.00 242.39 168.50 242.56 C169.00 242.73 169.55 243.18 170.00 243.30 C170.45 243.42 170.80 243.23 171.20 243.29 C171.60 243.35 172.00 243.66 172.40 243.67 C172.80 243.67 173.20 243.39 173.60 243.31 C174.00 243.23 174.40 243.20 174.80 243.18 C175.20 243.16 175.58 243.25 176.00 243.20 C176.42 243.15 176.89 242.90 177.33 242.86 C177.78 242.82 178.22 242.99 178.67 242.98 C179.11 242.97 179.51 243.21 180.00 242.80 C180.49 242.39 181.18 243.47 181.60 240.50 C182.02 237.53 182.25 229.58 182.50 225.00 C182.75 220.42 182.92 215.75 183.10 213.00 C183.28 210.25 183.38 209.40 183.60 208.50 C183.82 207.60 184.18 208.18 184.40 207.60 C184.62 207.02 184.73 206.93 184.90 205.00 C185.07 203.07 185.13 199.93 185.40 196.00 C185.67 192.07 186.20 185.40 186.50 181.40 C186.80 177.40 187.00 174.42 187.20 172.00 C187.40 169.58 187.52 167.07 187.70 166.90 C187.88 166.73 188.10 169.38 188.30 171.00 C188.50 172.62 188.67 173.23 188.90 176.60 C189.13 179.97 189.42 186.35 189.70 191.20 C189.98 196.05 190.20 200.85 190.60 205.70 C191.00 210.55 191.62 216.75 192.10 220.30 C192.58 223.85 193.03 226.55 193.50 227.00 C193.97 227.45 194.40 225.50 194.90 223.00 C195.40 220.50 196.07 215.47 196.50 212.00 C196.93 208.53 197.20 202.70 197.50 202.20 C197.80 201.70 198.03 205.70 198.30 209.00 C198.57 212.30 198.77 217.83 199.10 222.00 C199.43 226.17 199.88 230.92 200.30 234.00 C200.72 237.08 201.07 239.03 201.60 240.50 C202.13 241.97 202.93 242.29 203.50 242.80 C204.07 243.31 204.50 243.51 205.00 243.54 C205.50 243.58 206.00 242.98 206.50 243.02 C207.00 243.06 207.53 243.60 208.00 243.80 C208.47 244.00 208.89 244.12 209.33 244.22 C209.78 244.33 210.22 244.41 210.67 244.42 C211.11 244.43 211.56 244.25 212.00 244.30 C212.44 244.35 212.89 244.64 213.33 244.70 C213.78 244.75 214.22 244.61 214.67 244.62 C215.11 244.62 215.56 244.74 216.00 244.73 C216.44 244.71 216.89 244.54 217.33 244.52 C217.78 244.50 218.22 244.59 218.67 244.61 C219.11 244.62 219.57 244.60 220.00 244.60 C220.43 244.60 220.83 244.66 221.25 244.62 C221.67 244.58 222.08 244.28 222.50 244.38 C222.92 244.47 223.33 245.09 223.75 245.20 C224.17 245.30 224.58 245.08 225.00 245.01 C225.42 244.94 225.83 244.75 226.25 244.77 C226.67 244.79 227.08 245.06 227.50 245.13 C227.92 245.20 228.33 245.17 228.75 245.20 C229.17 245.23 229.58 245.28 230.00 245.30 C230.42 245.32 230.83 245.29 231.25 245.32 C231.67 245.35 232.08 245.38 232.50 245.46 C232.92 245.54 233.33 245.69 233.75 245.78 C234.17 245.88 234.58 245.95 235.00 246.01 C235.42 246.07 235.83 246.13 236.25 246.15 C236.67 246.18 237.08 246.20 237.50 246.16 C237.92 246.12 238.33 245.87 238.75 245.93 C239.17 245.98 239.58 246.42 240.00 246.50 C240.42 246.58 240.83 246.40 241.25 246.39 C241.67 246.39 242.08 246.39 242.50 246.48 C242.92 246.58 243.33 246.84 243.75 246.99 C244.17 247.14 244.58 247.30 245.00 247.37 C245.42 247.45 245.83 247.42 246.25 247.46 C246.67 247.49 247.08 247.54 247.50 247.59 C247.92 247.64 248.33 247.75 248.75 247.75 C249.17 247.75 249.58 247.64 250.00 247.60 C250.42 247.56 250.83 247.40 251.25 247.48 C251.67 247.56 252.08 248.01 252.50 248.11 C252.92 248.20 253.33 248.14 253.75 248.06 C254.17 247.98 254.58 247.69 255.00 247.62 C255.42 247.56 255.83 247.64 256.25 247.67 C256.67 247.69 257.08 247.62 257.50 247.76 C257.92 247.91 258.33 248.42 258.75 248.53 C259.17 248.64 259.57 248.48 260.00 248.40 C260.43 248.32 260.89 248.17 261.33 248.07 C261.78 247.98 262.22 247.83 262.67 247.85 C263.11 247.87 263.56 248.21 264.00 248.21 C264.44 248.21 264.89 247.98 265.33 247.86 C265.78 247.74 266.22 247.52 266.67 247.51 C267.11 247.50 267.54 247.82 268.00 247.80 C268.46 247.78 268.93 247.42 269.40 247.39 C269.87 247.36 270.33 247.66 270.80 247.62 C271.27 247.59 271.73 247.27 272.20 247.20 C272.67 247.13 273.13 247.18 273.60 247.20 C274.07 247.21 274.53 247.21 275.00 247.30 C275.47 247.39 275.93 247.67 276.40 247.75 C276.87 247.83 277.33 247.75 277.80 247.78 C278.27 247.81 278.73 247.83 279.20 247.92 C279.67 248.01 280.13 248.20 280.60 248.32 C281.07 248.43 281.54 248.62 282.00 248.60 C282.46 248.58 282.89 248.22 283.33 248.22 C283.78 248.22 284.22 248.52 284.67 248.60 C285.11 248.67 285.56 248.69 286.00 248.68 C286.44 248.67 286.89 248.55 287.33 248.52 C287.78 248.49 288.22 248.43 288.67 248.50 C289.11 248.56 289.53 248.76 290.00 248.90 C290.47 249.04 291.00 249.32 291.50 249.36 C292.00 249.39 292.50 249.14 293.00 249.11 C293.50 249.08 294.03 248.88 294.50 249.20 C294.97 249.52 295.38 251.07 295.80 251.00 C296.22 250.93 296.58 249.22 297.00 248.80 C297.42 248.38 297.89 248.50 298.33 248.50 C298.78 248.51 299.22 248.75 299.67 248.83 C300.11 248.91 300.56 249.08 301.00 248.99 C301.44 248.89 301.89 248.37 302.33 248.24 C302.78 248.10 303.22 248.14 303.67 248.20 C304.11 248.26 304.57 248.59 305.00 248.60 C305.43 248.61 305.83 248.22 306.25 248.24 C306.67 248.26 307.08 248.73 307.50 248.72 C307.92 248.71 308.33 248.20 308.75 248.18 C309.17 248.17 309.58 248.57 310.00 248.63 C310.42 248.70 310.83 248.61 311.25 248.57 C311.67 248.54 312.08 248.50 312.50 248.42 C312.92 248.33 313.33 248.11 313.75 248.09 C314.17 248.07 314.57 248.24 315.00 248.30 C315.43 248.36 315.89 248.51 316.33 248.46 C316.78 248.42 317.22 248.19 317.67 248.03 C318.11 247.87 318.44 247.84 319.00 247.50 C319.56 247.16 320.33 246.08 321.00 246.00 C321.67 245.92 322.43 246.84 323.00 247.00 C323.57 247.16 323.93 247.03 324.40 246.97 C324.87 246.92 325.33 246.66 325.80 246.67 C326.27 246.68 326.73 247.00 327.20 247.01 C327.67 247.03 328.13 246.78 328.60 246.75 C329.07 246.71 329.56 246.79 330.00 246.80 C330.44 246.81 330.83 246.86 331.25 246.82 C331.67 246.77 332.08 246.55 332.50 246.54 C332.92 246.53 333.33 246.82 333.75 246.77 C334.17 246.71 334.58 246.27 335.00 246.20 C335.42 246.14 335.83 246.25 336.25 246.37 C336.67 246.49 337.08 246.85 337.50 246.92 C337.92 246.99 338.33 246.87 338.75 246.79 C339.17 246.70 339.58 246.51 340.00 246.40 C340.42 246.29 340.83 246.11 341.25 246.13 C341.67 246.15 342.08 246.56 342.50 246.52 C342.92 246.49 343.33 245.95 343.75 245.93 C344.17 245.91 344.58 246.36 345.00 246.40 C345.42 246.43 345.83 246.23 346.25 246.12 C346.67 246.01 347.08 245.83 347.50 245.72 C347.92 245.62 348.33 245.50 348.75 245.48 C349.17 245.46 349.57 245.68 350.00 245.60 C350.43 245.52 350.87 244.98 351.30 244.98 C351.73 244.98 352.17 245.64 352.60 245.59 C353.03 245.54 353.47 244.77 353.90 244.66 C354.33 244.54 354.62 245.21 355.20 244.90 C355.78 244.59 356.88 244.28 357.40 242.80 C357.92 241.32 358.03 238.80 358.30 236.00 C358.57 233.20 358.77 228.78 359.00 226.00 C359.23 223.22 359.47 219.30 359.70 219.30 C359.93 219.30 360.17 223.22 360.40 226.00 C360.63 228.78 360.80 233.33 361.10 236.00 C361.40 238.67 361.83 241.33 362.20 242.00 C362.57 242.67 363.00 242.33 363.30 240.00 C363.60 237.67 363.78 233.00 364.00 228.00 C364.22 223.00 364.42 215.17 364.60 210.00 C364.78 204.83 364.95 200.23 365.10 197.00 C365.25 193.77 365.37 190.60 365.50 190.60 C365.63 190.60 365.77 193.77 365.90 197.00 C366.03 200.23 366.15 204.83 366.30 210.00 C366.45 215.17 366.60 223.33 366.80 228.00 C367.00 232.67 367.25 235.67 367.50 238.00 C367.75 240.33 367.58 241.12 368.30 242.00 C369.02 242.88 370.65 243.17 371.80 243.30 C372.95 243.43 374.37 243.35 375.20 242.80 C376.03 242.25 376.38 241.47 376.80 240.00 C377.22 238.53 377.43 235.92 377.70 234.00 C377.97 232.08 378.18 229.85 378.40 228.50 C378.62 227.15 378.80 225.90 379.00 225.90 C379.20 225.90 379.38 227.15 379.60 228.50 C379.82 229.85 380.05 232.08 380.30 234.00 C380.55 235.92 380.78 238.53 381.10 240.00 C381.42 241.47 381.58 242.13 382.20 242.80 C382.82 243.47 384.07 244.07 384.80 244.00 C385.53 243.93 386.07 242.98 386.60 242.40 C387.13 241.82 387.50 239.98 388.00 240.50 C388.50 241.02 388.83 245.18 389.60 245.50 C390.37 245.82 391.73 243.93 392.60 242.40 C393.47 240.87 394.18 239.20 394.80 236.30 C395.42 233.40 395.85 227.65 396.30 225.00 C396.75 222.35 397.10 220.40 397.50 220.40 C397.90 220.40 398.25 221.62 398.70 225.00 C399.15 228.38 399.43 237.65 400.20 240.70 C400.97 243.75 402.28 243.73 403.30 243.30 C404.32 242.87 405.22 238.07 406.30 238.10 C407.38 238.13 409.05 242.57 409.80 243.50 C410.55 244.43 410.15 244.10 410.80 243.70 C411.45 243.30 413.00 243.05 413.70 241.10 C414.40 239.15 414.63 234.77 415.00 232.00 C415.37 229.23 415.58 224.67 415.90 224.50 C416.22 224.33 416.47 228.75 416.90 231.00 C417.33 233.25 417.95 236.38 418.50 238.00 C419.05 239.62 419.47 240.40 420.20 240.70 C420.93 241.00 422.13 240.75 422.90 239.80 C423.67 238.85 424.32 236.38 424.80 235.00 C425.28 233.62 425.63 232.08 425.80 231.50" fill="none" stroke="#ff1a1a" stroke-width="1.40" stroke-linejoin="round"/><path d="M422.90 239.80 C423.22 239.00 424.32 236.38 424.80 235.00 C425.28 233.62 425.38 233.02 425.80 231.50 C426.22 229.98 426.85 228.32 427.30 225.90 C427.75 223.48 428.12 220.18 428.50 217.00 C428.88 213.82 429.27 209.80 429.60 206.80 C429.93 203.80 430.10 201.08 430.50 199.00 C430.90 196.92 431.45 194.77 432.00 194.30 C432.55 193.83 433.10 197.32 433.80 196.20 C434.50 195.08 435.32 190.30 436.20 187.60 C437.08 184.90 438.22 182.52 439.10 180.00 C439.98 177.48 440.77 175.00 441.50 172.50 C442.23 170.00 442.82 168.02 443.50 165.00 C444.18 161.98 444.85 158.57 445.60 154.40 C446.35 150.23 447.33 144.07 448.00 140.00 C448.67 135.93 448.95 134.17 449.60 130.00 C450.25 125.83 451.20 120.00 451.90 115.00 C452.60 110.00 453.25 105.00 453.80 100.00 C454.35 95.00 454.78 89.17 455.20 85.00 C455.62 80.83 455.93 77.83 456.30 75.00 C456.67 72.17 457.02 70.33 457.40 68.00 C457.78 65.67 458.17 63.33 458.60 61.00 C459.03 58.67 459.52 56.17 460.00 54.00 C460.48 51.83 461.08 49.83 461.50 48.00 C461.92 46.17 462.15 44.60 462.50 43.00 C462.85 41.40 463.23 40.08 463.60 38.40 C463.97 36.72 464.28 34.75 464.70 32.90 C465.12 31.05 465.67 29.17 466.10 27.30 C466.53 25.43 466.90 23.57 467.30 21.70 C467.70 19.83 468.05 17.95 468.50 16.10 C468.95 14.25 469.53 12.03 470.00 10.60 C470.47 9.17 470.92 8.25 471.30 7.50 C471.68 6.75 471.97 6.13 472.30 6.10 C472.63 6.07 473.00 6.65 473.30 7.30 C473.60 7.95 473.80 8.40 474.10 10.00 C474.40 11.60 474.78 14.58 475.10 16.90 C475.42 19.22 475.70 21.57 476.00 23.90 C476.30 26.23 476.67 28.58 476.90 30.90 C477.13 33.22 477.25 35.45 477.40 37.80 C477.55 40.15 477.67 41.63 477.80 45.00 C477.93 48.37 478.07 53.83 478.20 58.00 C478.33 62.17 478.43 65.50 478.60 70.00 C478.77 74.50 478.98 80.00 479.20 85.00 C479.42 90.00 479.68 95.00 479.90 100.00 C480.12 105.00 480.28 110.00 480.50 115.00 C480.72 120.00 480.93 125.33 481.20 130.00 C481.47 134.67 481.80 139.50 482.10 143.00 C482.40 146.50 482.67 148.67 483.00 151.00 C483.33 153.33 483.72 156.67 484.10 157.00 C484.48 157.33 485.10 153.67 485.30 153.00" fill="none" stroke="#ff1a1a" stroke-width="1.10" stroke-linejoin="round"/><path d="M483.00 151.00 C483.18 152.00 483.72 156.67 484.10 157.00 C484.48 157.33 484.93 155.00 485.30 153.00 C485.67 151.00 485.85 148.33 486.30 145.00 C486.75 141.67 487.50 136.02 488.00 133.00 C488.50 129.98 488.88 128.18 489.30 126.90 C489.72 125.62 490.13 125.88 490.50 125.30 C490.87 124.72 491.18 123.82 491.50 123.40 C491.82 122.98 492.10 122.45 492.40 122.80 C492.70 123.15 493.03 124.30 493.30 125.50 C493.57 126.70 493.47 127.25 494.00 130.00 C494.53 132.75 495.63 137.93 496.50 142.00 C497.37 146.07 498.38 150.65 499.20 154.40 C500.02 158.15 500.63 161.57 501.40 164.50 C502.17 167.43 503.03 169.50 503.80 172.00 C504.57 174.50 505.30 176.92 506.00 179.50 C506.70 182.08 507.35 185.38 508.00 187.50 C508.65 189.62 509.28 190.65 509.90 192.20 C510.52 193.75 511.10 195.38 511.70 196.80 C512.30 198.22 512.88 199.50 513.50 200.70 C514.12 201.90 514.78 202.98 515.40 204.00 C516.02 205.02 516.63 206.05 517.20 206.80 C517.77 207.55 518.30 208.08 518.80 208.50 C519.30 208.92 519.70 209.22 520.20 209.30 C520.70 209.38 521.28 209.22 521.80 209.00 C522.32 208.78 522.85 208.53 523.30 208.00 C523.75 207.47 524.10 206.60 524.50 205.80 C524.90 205.00 525.28 204.33 525.70 203.20 C526.12 202.07 526.58 200.43 527.00 199.00 C527.42 197.57 527.80 196.10 528.20 194.60 C528.60 193.10 529.00 191.62 529.40 190.00 C529.80 188.38 530.30 186.57 530.60 184.90 C530.90 183.23 530.77 182.48 531.20 180.00 C531.63 177.52 532.67 174.08 533.20 170.00 C533.73 165.92 534.02 159.67 534.40 155.50 C534.78 151.33 535.08 148.58 535.50 145.00 C535.92 141.42 536.52 137.33 536.90 134.00 C537.28 130.67 537.49 127.88 537.80 125.00 C538.11 122.12 538.28 119.17 538.75 116.75 C539.22 114.33 539.98 111.96 540.60 110.50 C541.23 109.04 541.93 108.83 542.50 108.00 C543.07 107.17 543.75 105.92 544.00 105.50" fill="none" stroke="#ff1a1a" stroke-width="1.50" stroke-linejoin="round"/>
<path d="M57.70 30.60 C57.93 30.47 58.63 31.23 59.10 29.80 C59.57 28.37 60.08 24.10 60.50 22.00 C60.92 19.90 61.25 17.78 61.60 17.20 C61.95 16.62 62.28 17.20 62.60 18.50 C62.92 19.80 63.18 23.17 63.50 25.00 C63.82 26.83 64.08 28.08 64.50 29.50 C64.92 30.92 65.47 32.37 66.00 33.50 C66.53 34.63 67.12 36.38 67.70 36.30 C68.28 36.22 68.90 34.43 69.50 33.00 C70.10 31.57 70.80 28.03 71.30 27.70 C71.80 27.37 72.15 29.57 72.50 31.00 C72.85 32.43 73.25 35.42 73.40 36.30" fill="none" stroke="#ff2626" stroke-width="1.7" stroke-linecap="round" stroke-linejoin="round"/>
<path d="M58.60 46.20 C58.70 46.87 58.93 50.07 59.20 50.20 C59.47 50.33 59.85 48.53 60.20 47.00 C60.55 45.47 60.92 42.78 61.30 41.00 C61.68 39.22 62.08 36.47 62.50 36.30 C62.92 36.13 63.42 38.55 63.80 40.00 C64.18 41.45 64.50 43.55 64.80 45.00 C65.10 46.45 65.17 47.20 65.60 48.70 C66.03 50.20 66.88 52.85 67.40 54.00 C67.92 55.15 68.22 55.27 68.70 55.60 C69.18 55.93 69.82 56.13 70.30 56.00 C70.78 55.87 71.15 55.38 71.60 54.80 C72.05 54.22 72.60 53.33 73.00 52.50 C73.40 51.67 73.83 50.25 74.00 49.80" fill="none" stroke="#8c22a0" stroke-width="2.0" stroke-linecap="round" stroke-linejoin="round"/>
<path d="M57.70 75.50 C57.88 74.25 58.45 70.12 58.80 68.00 C59.15 65.88 59.50 63.22 59.80 62.80 C60.10 62.38 60.33 64.52 60.60 65.50 C60.87 66.48 61.07 69.12 61.40 68.70 C61.73 68.28 62.12 64.53 62.60 63.00 C63.08 61.47 63.82 59.67 64.30 59.50 C64.78 59.33 65.12 61.12 65.50 62.00 C65.88 62.88 66.18 63.55 66.60 64.80 C67.02 66.05 67.47 67.97 68.00 69.50 C68.53 71.03 69.30 73.17 69.80 74.00 C70.30 74.83 70.65 74.68 71.00 74.50 C71.35 74.32 71.57 73.65 71.90 72.90 C72.23 72.15 72.65 70.67 73.00 70.00 C73.35 69.33 73.67 68.57 74.00 68.90 C74.33 69.23 74.67 70.90 75.00 72.00 C75.33 73.10 75.83 74.92 76.00 75.50" fill="none" stroke="#00e8f0" stroke-width="2.6" stroke-linecap="round" stroke-linejoin="round"/>
<text x="79.50" y="35.9" font-size="11.3" fill="#1c1c1c" stroke="#1c1c1c" stroke-width="0.25" font-family="Liberation Sans, Arial, sans-serif">-</text>
<text x="79.50" y="51.5" font-size="11.3" fill="#1c1c1c" stroke="#1c1c1c" stroke-width="0.25" font-family="Liberation Sans, Arial, sans-serif">-</text>
<text x="79.50" y="67.5" font-size="11.3" fill="#1c1c1c" stroke="#1c1c1c" stroke-width="0.25" font-family="Liberation Sans, Arial, sans-serif">-</text>
<text x="86.70" y="35.9" font-size="11.3" textLength="74.70" fill="#1c1c1c" stroke="#1c1c1c" stroke-width="0.25" font-family="Liberation Sans, Arial, sans-serif">PNDI(2HD)2T</text>
<text x="87.00" y="51.5" font-size="11.3" textLength="51.93" fill="#1c1c1c" stroke="#1c1c1c" stroke-width="0.25" font-family="Liberation Sans, Arial, sans-serif">PCPDTBT</text>
<text x="142.40" y="51.5" font-size="11.3" textLength="20.00" fill="#1c1c1c" stroke="#1c1c1c" stroke-width="0.25" font-family="Liberation Sans, Arial, sans-serif">and</text>
<text x="166.60" y="51.5" font-size="11.3" textLength="74.70" fill="#1c1c1c" stroke="#1c1c1c" stroke-width="0.25" font-family="Liberation Sans, Arial, sans-serif">PNDI(2HD)2T</text>
<text x="244.10" y="51.5" font-size="11.3" textLength="30.30" fill="#1c1c1c" stroke="#1c1c1c" stroke-width="0.25" font-family="Liberation Sans, Arial, sans-serif">blend</text>
<text x="87.00" y="67.5" font-size="11.3" textLength="51.93" fill="#1c1c1c" stroke="#1c1c1c" stroke-width="0.25" font-family="Liberation Sans, Arial, sans-serif">PCPDTBT</text>
<text x="221.3" y="276.5" font-size="12.4" textLength="74.4" fill="#262626" stroke="#262626" stroke-width="0.2" font-family="Liberation Sans, Arial, sans-serif">Wavenumber</text>
<text x="307.9" y="276.4" font-size="12.5" fill="#262626" stroke="#262626" stroke-width="0.2" font-family="Liberation Sans, Arial, sans-serif">(cm</text>
<text x="329.3" y="272.3" font-size="6.8" fill="#262626" stroke="#262626" stroke-width="0.2" font-family="Liberation Sans, Arial, sans-serif">-1</text>
<text x="336.2" y="276.4" font-size="12.5" fill="#262626" stroke="#262626" stroke-width="0.2" font-family="Liberation Sans, Arial, sans-serif">)</text>
<text transform="translate(23.4 176.9) rotate(-90)" x="0" y="0" font-size="10.9" textLength="65.12" fill="#262626" stroke="#262626" stroke-width="0.2" font-family="Liberation Sans, Arial, sans-serif">Absorbance</text>
<text transform="translate(23.4 105.9) rotate(-90)" x="0" y="0" font-size="10.9" textLength="26.82" fill="#262626" stroke="#262626" stroke-width="0.2" font-family="Liberation Sans, Arial, sans-serif">(a.u.)</text>
<rect x="5" y="5" width="541" height="277" fill="none" stroke="#000" stroke-width="2"/>
</svg>
</body></html>
